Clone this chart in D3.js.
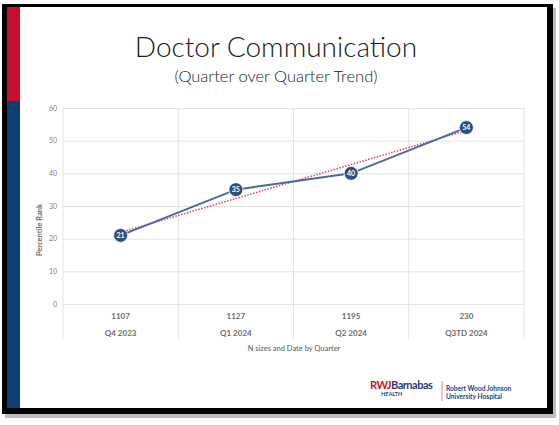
<!DOCTYPE html>
<html>
<head>
<meta charset="utf-8">
<script src="https://cdn.jsdelivr.net/npm/d3@7"></script>
<style>
  body { margin: 0; background: #fff; }
  text { font-family: Lato, "Open Sans", sans-serif; }
</style>
</head>
<body>
<svg id="chart"></svg>
<script>
let quarters = ["Q4 2023", "Q1 2024", "Q2 2024", "Q3TD 2024"];
let nSizes = ["1107", "1127", "1195", "230"];
let percentile = [21, 35, 40, 54];
let yTicks = [0, 10, 20, 30, 40, 50, 60];

let W = 559, H = 425;
let plot = {left: 63, right: 524, top: 108, bottom: 304, gridBottom: 339};

let svg = d3.select("#chart").attr("width", W).attr("height", H);

// slide frame
svg.append("rect").attr("x", 5).attr("y", 8).attr("width", 551).attr("height", 410).attr("fill", "#bdbdbd");
svg.append("rect").attr("x", 2).attr("y", 4).attr("width", 551).attr("height", 410).attr("fill", "#000");
svg.append("rect").attr("x", 7).attr("y", 7).attr("width", 540).attr("height", 401).attr("fill", "#fff");
svg.append("rect").attr("x", 7).attr("y", 7).attr("width", 13).attr("height", 94).attr("fill", "#c8102e");
svg.append("rect").attr("x", 7).attr("y", 101).attr("width", 13).attr("height", 307).attr("fill", "#0c3f75");

// titles
svg.append("text").attr("x", 276).attr("y", 57).attr("text-anchor", "middle")
  .attr("font-size", 28).attr("font-weight", 300).attr("fill", "#1a1a1a")
  .text("Doctor Communication");
svg.append("text").attr("x", 276).attr("y", 82).attr("text-anchor", "middle")
  .attr("font-size", 16.5).attr("font-weight", 300).attr("fill", "#222")
  .text("(Quarter over Quarter Trend)");

let x = d3.scaleBand().domain(quarters).range([plot.left, plot.right]);
let y = d3.scaleLinear().domain([0, 60]).range([plot.bottom, plot.top]);

let g = svg.append("g");

// horizontal gridlines + y labels
let yAxis = g.append("g")
  .attr("transform", "translate(" + plot.left + ",0)")
  .call(d3.axisLeft(y).tickValues(yTicks).tickSize(-(plot.right - plot.left)).tickPadding(6));
yAxis.select(".domain").remove();
yAxis.selectAll(".tick line").attr("stroke", "#e3e3e3");
yAxis.selectAll(".tick text").attr("fill", "#7f7f7f").attr("font-size", 7)
  .style("font-family", "Lato, sans-serif");

// vertical gridlines at band edges
let edges = quarters.map(q => x(q)).concat([plot.right]);
g.selectAll(".vgrid").data(edges).enter().append("line")
  .attr("x1", d => d).attr("x2", d => d)
  .attr("y1", plot.top).attr("y2", plot.gridBottom)
  .attr("stroke", "#e3e3e3");

// category labels
let cx = q => x(q) + x.bandwidth() / 2;
g.selectAll(".nsize").data(quarters).enter().append("text")
  .attr("x", cx).attr("y", 319).attr("text-anchor", "middle")
  .attr("font-size", 8).attr("font-weight", 700).attr("fill", "#6b6b6b")
  .text((d, i) => nSizes[i]);
g.selectAll(".qlabel").data(quarters).enter().append("text")
  .attr("x", cx).attr("y", 336).attr("text-anchor", "middle")
  .attr("font-size", 8).attr("font-weight", 700).attr("fill", "#6b6b6b")
  .text(d => d);

// axis titles
svg.append("text").attr("x", 294).attr("y", 351).attr("text-anchor", "middle")
  .attr("font-size", 7.5).attr("fill", "#595959").text("N sizes and Date by Quarter");
svg.append("text").attr("transform", "translate(42,230) rotate(-90)").attr("text-anchor", "middle")
  .attr("font-size", 7.5).attr("font-weight", 700).attr("fill", "#6b6b6b").text("Percentile Rank");

// linear trendline (least squares over category index)
let idx = percentile.map((d, i) => i + 1);
let mx = d3.mean(idx), my = d3.mean(percentile);
let slope = d3.sum(idx, (k, i) => (k - mx) * (percentile[i] - my)) / d3.sum(idx, k => (k - mx) * (k - mx));
let icpt = my - slope * mx;
let trend = quarters.map((q, i) => ({q: q, v: icpt + slope * (i + 1)}));

let line = d3.line().x(d => cx(d.q)).y(d => y(d.v));
let series = quarters.map((q, i) => ({q: q, v: percentile[i]}));

g.append("path").datum([trend[0], trend[trend.length - 1]])
  .attr("d", line).attr("fill", "none")
  .attr("stroke", "#e0405e").attr("stroke-width", 1.5).attr("stroke-dasharray", "1.5,1.5");

g.append("path").datum(series)
  .attr("d", line).attr("fill", "none")
  .attr("stroke", "#4a6a9c").attr("stroke-width", 2);

let pts = g.selectAll(".pt").data(series).enter().append("g")
  .attr("transform", d => "translate(" + cx(d.q) + "," + y(d.v) + ")");
pts.append("circle").attr("r", 7).attr("fill", "#2c4f80").attr("stroke", "#fff").attr("stroke-width", 0.8);
pts.append("text").attr("text-anchor", "middle").attr("dy", "0.35em")
  .attr("font-size", 7).attr("font-weight", 700).attr("fill", "#fff").text(d => d.v);

// logo
let logo = svg.append("g");
logo.append("text").attr("x", 370).attr("y", 389).attr("font-size", 11).attr("font-weight", 700)
  .attr("letter-spacing", -0.5)
  .selectAll("tspan").data([["RWJ", "#c8102e"], ["Barnabas", "#1f3f7a"]]).enter().append("tspan")
  .attr("fill", d => d[1]).text(d => d[0]);
logo.append("text").attr("x", 381).attr("y", 396).attr("font-size", 5.5).attr("font-weight", 700)
  .attr("fill", "#1f3f7a").text("HEALTH");
logo.append("line").attr("x1", 442).attr("x2", 442).attr("y1", 381).attr("y2", 401)
  .attr("stroke", "#e0607a").attr("stroke-width", 0.8);
logo.append("text").attr("x", 446).attr("y", 391).attr("font-size", 6.6).attr("font-weight", 700)
  .attr("fill", "#1f3f7a").text("Robert Wood Johnson");
logo.append("text").attr("x", 446).attr("y", 398.5).attr("font-size", 6.6).attr("font-weight", 700)
  .attr("fill", "#1f3f7a").text("University Hospital");
</script>
</body>
</html>
